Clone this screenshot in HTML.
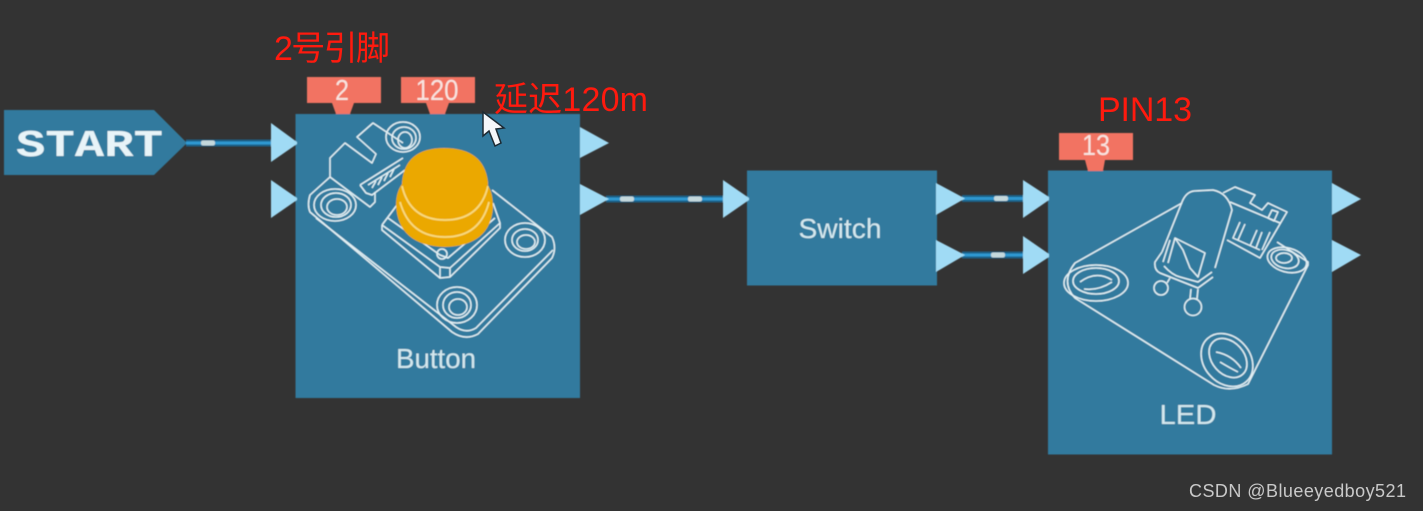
<!DOCTYPE html>
<html lang="zh"><head><meta charset="utf-8"><title>Button LED flow</title>
<style>
html,body{margin:0;padding:0;background:#333;width:1423px;height:511px;overflow:hidden}
svg{display:block}
text{font-family:"Liberation Sans","Noto Sans CJK SC",sans-serif}
</style></head><body>
<svg width="1423" height="511" viewBox="0 0 1423 511" xmlns="http://www.w3.org/2000/svg">
<defs><filter id="b" x="-5%" y="-5%" width="110%" height="110%"><feGaussianBlur stdDeviation="0.6"/></filter></defs>
<rect width="1423" height="511" fill="#333333"/>
<g filter="url(#b)">
<!-- blocks -->
<polygon points="4,110 154,110 187,143 154,175 4,175" fill="#327A9E"/>
<rect x="295.5" y="114" width="284.5" height="284" fill="#327A9E"/>
<rect x="747" y="170.5" width="190" height="115" fill="#327A9E"/>
<rect x="1048" y="170.5" width="284" height="284" fill="#327A9E"/>
<!-- wires -->
<g fill="#1D5F85">
<rect x="186" y="139.500" width="86" height="7"/><rect x="606" y="195.500" width="118" height="7"/>
<rect x="962" y="195" width="62" height="7"/><rect x="962" y="251.500" width="62" height="7"/>
</g>
<g fill="#2E97D0">
<rect x="186" y="141.500" width="86" height="3"/><rect x="606" y="197.500" width="118" height="3"/>
<rect x="962" y="197" width="62" height="3"/><rect x="962" y="253.500" width="62" height="3"/>
</g>
<g fill="#C4D8DC">
<rect x="201" y="140.500" width="14" height="5" rx="2"/><rect x="620" y="196.500" width="14" height="5" rx="2"/><rect x="688" y="196.500" width="14" height="5" rx="2"/>
<rect x="994" y="196" width="14" height="5" rx="2"/><rect x="991" y="252.500" width="14" height="5" rx="2"/>
</g>
<!-- ports -->
<g fill="#A0DBF5">
<polygon points="271,123 297,142 297,144 271,162"/><polygon points="271,180 297,198 297,200 271,218"/>
<polygon points="580,127 609,143 580,158"/><polygon points="580,184 609,199 580,215"/>
<polygon points="723,180 749,198 749,200 723,218"/>
<polygon points="936,183 965,198.500 936,215"/><polygon points="936,240 965,255 936,272"/>
<polygon points="1023,180 1049,197 1049,200 1023,218"/><polygon points="1023,236 1049,254 1049,257 1023,274"/>
<polygon points="1332,183 1361,199 1332,215"/><polygon points="1332,240 1361,255 1332,272"/>
</g>
<!-- tags -->
<g fill="#F27362">
<polygon points="307,77 381,77 381,103 354,103 350,114 336,114 332,103 307,103"/>
<polygon points="401,77 475,77 475,103 449,103 445,114 430,114 426,103 401,103"/>
<polygon points="1059,133 1133,133 1133,160 1105,160 1103,171 1088,171 1085,160 1059,160"/>
</g>
<g fill="#F8E4E0" font-size="29" text-anchor="middle">
<text x="342" y="100" textLength="14" lengthAdjust="spacingAndGlyphs">2</text>
<text x="437" y="100" textLength="43" lengthAdjust="spacingAndGlyphs">120</text>
<text x="1096" y="155" textLength="28" lengthAdjust="spacingAndGlyphs">13</text>
</g>
<!-- START -->
<text x="16" y="156" font-size="38" font-weight="700" fill="#E8F4F8" textLength="147" lengthAdjust="spacingAndGlyphs" style="font-family:'Liberation Mono',monospace">START</text>
<!-- button art -->
<g fill="none" stroke="#E2F0F4" stroke-width="1.500" stroke-linejoin="round">
<path d="M330,177 L310,195 Q307,205 310,212 L452,332 Q465,341 478,334 L552,258 Q557,248 552,237 L492,190"/>
<path d="M316,218 L456,327 Q466,334 476,328 L553,250"/>
<path d="M330,177 L330,158 L345,143 L372,163 L376,154 L357,137 L373,123 L403,143"/>
<path d="M330,177 L370,207 L375,202 L375,192"/>
<path d="M360,185 L403,158 M360,185 L366,193 L372,195 L405,170 M368,185 L400,165 M372,188 L376,181 M378,185 L382,177 M384,181 L388,173 M390,177 L394,169"/>
<ellipse cx="335" cy="205" rx="21" ry="16"/><ellipse cx="336" cy="205" rx="15" ry="12"/><ellipse cx="337" cy="207" rx="10" ry="8"/>
<ellipse cx="525" cy="240" rx="20" ry="17"/><ellipse cx="525" cy="240" rx="13" ry="11"/><ellipse cx="526" cy="242" rx="9" ry="7"/>
<ellipse cx="457" cy="305" rx="20" ry="18"/><ellipse cx="457" cy="305" rx="14" ry="13"/><ellipse cx="458" cy="307" rx="9" ry="8"/>
<ellipse cx="403" cy="137" rx="17" ry="15"/><ellipse cx="404" cy="138" rx="12" ry="11"/><ellipse cx="405" cy="140" rx="7" ry="8"/>
<path d="M382,225 L397,205 M382,225 L382,230 L440,278 L450,277 L500,228 L500,223 L493,203 M382,225 L440,267 L450,268 L500,223 M440,267 L440,278 M450,268 L450,277"/>
<path d="M388,218 L440,255 L448,258 L495,218"/>
<circle cx="442" cy="254" r="5"/>
</g>
<!-- orange knob -->
<path d="M396,205 Q396,192 402,184 L402,182 Q405,148 444,148 Q484,148 488,182 L488,186 Q493,192 493,208 Q490,246 445,247 Q398,246 396,205 Z" fill="#EBA800"/>
<g fill="none" stroke="#F8DC80" stroke-width="1.700">
<path d="M402,186 Q410,220 445,220 Q480,220 488,186"/>
<path d="M400,202 Q410,237 445,237 Q480,237 489,202"/>
</g>
<!-- LED art -->
<g fill="none" stroke="#E2F0F4" stroke-width="1.500" stroke-linejoin="round">
<path d="M1182,203 L1075,263 Q1060,282 1075,298 L1214,385 Q1230,393 1248,384 L1308,265 L1308,262 L1277,242"/>
<ellipse cx="1096" cy="283" rx="32" ry="18"/><ellipse cx="1096" cy="281" rx="23" ry="13"/><path d="M1080,282 Q1096,270 1112,280 M1084,289 Q1098,291 1112,282"/>
<ellipse cx="1227" cy="360" rx="29" ry="23" transform="rotate(48 1227 360)"/><ellipse cx="1228" cy="358" rx="22" ry="16" transform="rotate(48 1228 358)"/><path d="M1216,352 Q1232,355 1241,368 M1220,362 Q1230,368 1238,372"/>
<ellipse cx="1287" cy="260" rx="20" ry="12" transform="rotate(15 1287 260)"/><ellipse cx="1285" cy="259" rx="14" ry="9" transform="rotate(15 1285 259)"/><ellipse cx="1284" cy="258" rx="8" ry="5"/>
<path d="M1162,252 L1182,202 Q1186,192 1194,191 L1213,190 Q1228,193 1232,210 L1215,268"/>
<path d="M1162,252 L1155,262 Q1154,270 1160,273 L1198,288 L1213,277"/>
<path d="M1164,266 Q1172,275 1180,277 L1198,282 L1212,272"/>
<path d="M1175,238 L1205,253 L1198,277 L1190,268 L1183,250 L1175,238 L1168,263 M1170,240 L1163,262"/>
<circle cx="1161" cy="288" r="7"/><circle cx="1193" cy="307" r="8.500"/>
<path d="M1167,283 L1170,278 M1190,299 L1191,289 M1197,299 L1198,289"/>
<path d="M1223,193 L1235,187 L1255,195 L1250,203 L1262,210 L1268,203 L1287,212 L1260,258 L1227,240 M1230,202 L1280,223 M1240,222 L1233,238 L1260,250 M1245,224 L1238,240 M1257,230 L1250,246 M1262,232 L1256,248 M1270,232 L1262,250"/>
<path d="M1272,210 L1278,212 L1274,221 L1268,218 Z"/>
</g>
<!-- block labels -->
<g fill="#D4E8EE" font-size="28">
<text x="840" y="238" text-anchor="middle" textLength="83" lengthAdjust="spacingAndGlyphs">Switch</text>
<text x="436" y="368" text-anchor="middle" textLength="80" lengthAdjust="spacingAndGlyphs">Button</text>
<text x="1188" y="424" text-anchor="middle" textLength="57" lengthAdjust="spacingAndGlyphs">LED</text>
</g>
</g>
<!-- cursor -->
<polygon points="483,112 483,136 489,131 495,146 501,143 496,129 504,128" fill="#F4F7FA" stroke="#1c2a33" stroke-width="1.500"/>
<!-- annotations -->
<g fill="#FF1A0E" font-size="34">
<text x="274" y="60" textLength="116">2号引脚</text>
<text x="494" y="111" textLength="154">延迟120m</text>
<text x="1098" y="121" textLength="94">PIN13</text>
</g>
<text x="1189" y="497" font-size="18" fill="#C9C9C9" textLength="217">CSDN @Blueeyedboy521</text>
</svg>
</body></html>
